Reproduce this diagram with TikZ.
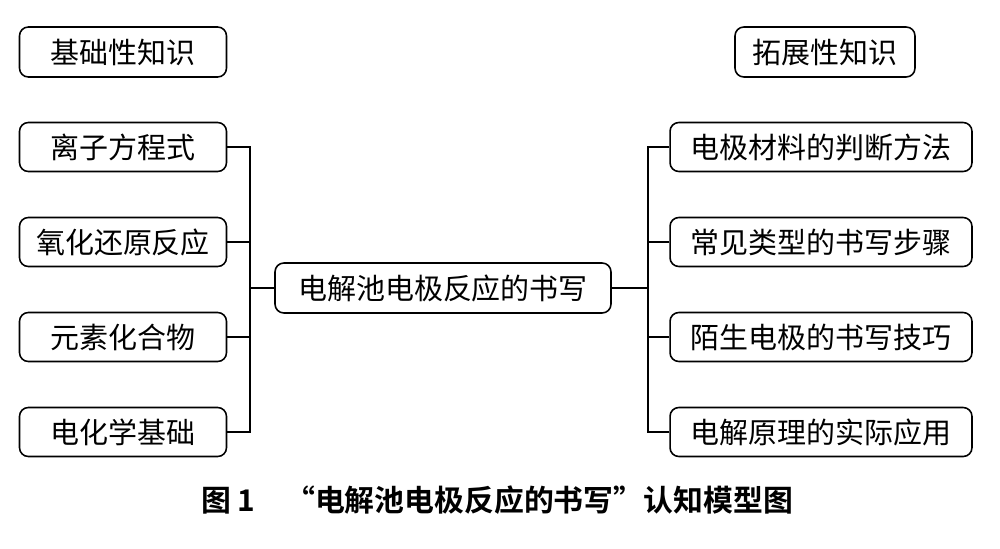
\documentclass[tikz,border=0pt]{standalone}
\usepackage{fontspec}
\newfontfamily\cjk{Noto Sans CJK SC}
\newfontfamily\cjkb{Noto Sans CJK SC Bold}
\begin{document}
\begin{tikzpicture}[x=0.02cm,y=-0.02cm,
  box/.style={draw,line width=0.9pt,rounded corners=5pt,inner sep=0pt,font=\cjk\fontsize{16.5}{18}\selectfont},
  ln/.style={line width=0.9pt}]
\useasboundingbox (0,0) rectangle (1000,548);
\node[box,minimum width=4.14cm,minimum height=1cm] (jc) at (123,52) {基础性知识};
\node[box,minimum width=3.6cm,minimum height=1cm] (tz) at (825,52) {拓展性知识};
\foreach \n/\t/\y in {l1/离子方程式/147,l2/氧化还原反应/242,l3/元素化合物/337,l4/电化学基础/432}
  \node[box,minimum width=4.14cm,minimum height=0.98cm] (\n) at (123,\y) {\t};
\foreach \n/\t/\y in {r1/电极材料的判断方法/147,r2/常见类型的书写步骤/242,r3/陌生电极的书写技巧/337,r4/电解原理的实际应用/432}
  \node[box,minimum width=6.04cm,minimum height=0.98cm] (\n) at (821,\y) {\t};
\node[box,minimum width=6.72cm,minimum height=1cm] (c) at (443,288) {电解池电极反应的书写};
\coordinate (lb) at (250,288);
\coordinate (rb) at (648,288);
\draw[ln] (l1.east) -| (lb);
\draw[ln] (l4.east) -| (lb);
\draw[ln] (l2.east) -- (l2.east -| lb);
\draw[ln] (l3.east) -- (l3.east -| lb);
\draw[ln] (lb) -- (c.west);
\draw[ln] (r1.west) -| (rb);
\draw[ln] (r4.west) -| (rb);
\draw[ln] (r2.west) -- (r2.west -| rb);
\draw[ln] (r3.west) -- (r3.west -| rb);
\draw[ln] (c.east) -- (rb);
\node[font=\cjkb\fontsize{17}{19}\selectfont] (cap) at (497,500) {图 1\quad “电解池电极反应的书写”认知模型图};
\end{tikzpicture}
\end{document}
